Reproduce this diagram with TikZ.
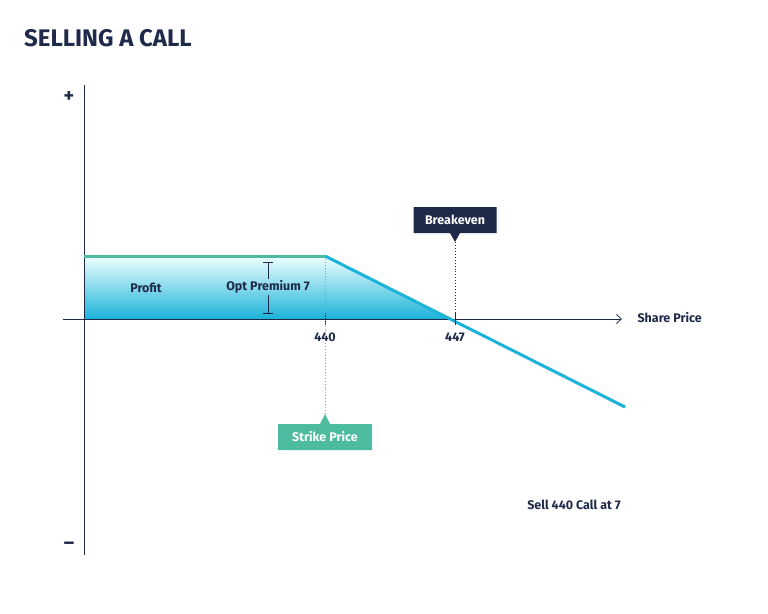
\documentclass[tikz,border=0pt]{standalone}
\usepackage{fontspec}
\setmainfont{Fira Sans}
\usetikzlibrary{arrows.meta,shapes.callouts}
\definecolor{navy}{HTML}{1F2A4A}
\definecolor{mint}{HTML}{4DBB9F}
\definecolor{cyanline}{HTML}{1BB3D9}
\tikzset{
  lbl/.style={text=navy,font=\fontsize{12.5}{14}\selectfont\bfseries},
  tag/.style={rectangle callout,font=\fontsize{12.5}{14}\selectfont\bfseries,text=white,
    minimum height=26pt,inner xsep=4pt,callout pointer width=10pt}
}
\begin{document}
\begin{tikzpicture}[x=1pt,y=-1pt]
  \useasboundingbox (0,0) rectangle (768,613);
  \node[anchor=west,text=navy,font=\fontsize{24}{26}\selectfont\bfseries,inner sep=0pt] (title) at (24,38) {SELLING A CALL};

  % profit area
  \shade[top color=cyan!6,bottom color=cyanline] (84,256) -- (325,256) -- (450,319) -- (84,319) -- cycle;

  % axes
  \coordinate (ytop) at (84,85);
  \coordinate (ybot) at (84,555);
  \coordinate (xl) at (63,319);
  \coordinate (xr) at (622,319);
  \draw[navy,line width=0.8pt] (ytop) -- (ybot);
  \draw[navy,line width=0.8pt,-{Straight Barb[length=5pt,width=9pt]}] (xl) -- (xr);
  \node[lbl,font=\fontsize{20}{22}\selectfont\bfseries] (plus) at (69,97) {+};
  \node[lbl,font=\fontsize{20}{22}\selectfont\bfseries] (minus) at (69,546) {--};
  \node[lbl,anchor=west] (sp) at (634,318) {Share Price};

  % payoff
  \coordinate (p0) at (84,256);
  \coordinate (p1) at (325,256);
  \coordinate (p2) at (625,407);
  \draw[mint,line width=3pt] (p0) -- (p1);
  \draw[cyanline,line width=3pt] (p1) -- (p2);

  % strike
  \coordinate (k) at (325,319);
  \coordinate (be) at (455,319);
  \draw[navy,line width=0.8pt] (325,313) -- (325,325) (455,313) -- (455,325);
  \node[lbl] (k440) at (325,337) {440};
  \node[lbl] (b447) at (455,337) {447};
  \node[tag,fill=mint,minimum width=94pt,callout absolute pointer={(325,414)}] (strike) at (325,437) {Strike Price};
  \draw[mint,dotted,line width=0.9pt] (p1) -- (strike.pointer);
  \node[tag,fill=navy,minimum width=83pt,callout absolute pointer={(455,242)}] (brk) at (455,220) {Breakeven};
  \draw[navy,dotted,line width=0.9pt] (brk.pointer) -- (be);

  % premium
  \coordinate (pt) at (268,262);
  \coordinate (pb) at (268,313);
  \node[lbl,inner sep=1pt] (prem) at (268,287) {Opt Premium 7};
  \draw[navy,line width=0.7pt] (pt) -- (prem.north) (prem.south) -- (pb);
  \draw[navy,line width=0.7pt] (263,262) -- (273,262) (263,313) -- (273,313);
  \node[lbl] (profit) at (146,288) {Profit};

  \node[lbl] (sell) at (574,505) {Sell 440 Call at 7};
\end{tikzpicture}
\end{document}
